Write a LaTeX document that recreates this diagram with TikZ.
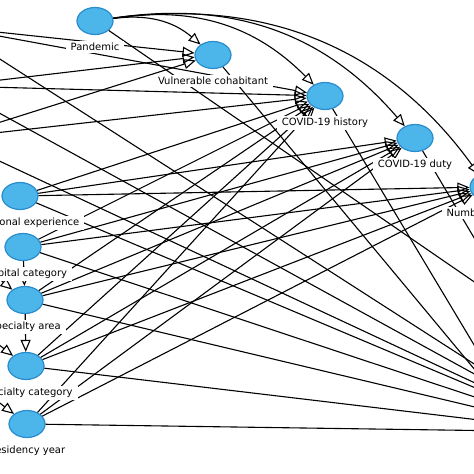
\documentclass[tikz,border=0pt]{standalone}
\usepackage{fontspec}
\setsansfont{DejaVu Sans}
\usetikzlibrary{positioning,arrows.meta,shapes.geometric}

\definecolor{varfill}{RGB}{76,182,234}
\definecolor{varline}{RGB}{40,140,205}

\tikzset{
  var/.style={ellipse,draw=varline,fill=varfill,line width=1.2pt,
    minimum width=36pt,minimum height=27pt,inner sep=0pt},
  lab/.style={fill=white,inner xsep=5pt,inner ysep=2pt,font=\sffamily\fontsize{10}{12}\selectfont},
  dep/.style={-{Triangle[open,length=12pt,width=10pt]},line width=1.1pt},
}

\begin{document}
\begin{tikzpicture}[x=1pt,y=-1pt,node distance=6pt]
  \useasboundingbox (0,0) rectangle (474,474);
  \clip (0,0) rectangle (474,474);

  % exposures along the diagonal
  \node[var] (pand) at (95,21) {};
  \node[var] (vuln) at (213,55) {};
  \node[var] (hist) at (325,96) {};
  \node[var] (duty) at (415,138) {};
  \node[var] (nshift) at (488,187) {};
  % left column
  \node[var] (prof) at (20,196) {};
  \node[var] (hosp) at (23,247) {};
  \node[var] (sarea) at (25,300) {};
  \node[var] (scat) at (26,366) {};
  \node[var] (resid) at (27,424) {};
  % variables outside the frame
  \coordinate (age) at (-50,27);
  \coordinate (sex) at (-50,86);
  \coordinate (spec) at (-50,138);
  \coordinate (prev1) at (-30,255);
  \coordinate (prev2) at (-30,322);
  \coordinate (prev3) at (-30,380);
  \coordinate (outa) at (518,312);
  \coordinate (outb) at (580,432);
  \coordinate (outc) at (525,430);

  \draw[dep] (pand) to[bend left=24] (vuln);
  \draw[dep] (pand) to[bend left=27] (hist);
  \draw[dep] (pand) to[bend left=29] (duty);
  \draw[dep] (pand) to[bend left=31] (nshift);
  \draw[dep] (pand) -- (outa);

  \draw[dep] (vuln) -- (outc);
  \draw[dep] (hist) -- (outc);
  \draw[dep] (duty) -- (outa);
  \draw[dep] (nshift) -- (outc);

  \foreach \src in {age,sex,spec} {
    \draw[dep] (\src) -- (vuln);
    \draw[dep] (\src) -- (hist);
    \draw[dep] (\src) -- (outb);
  }
  \foreach \src in {prof,hosp,sarea,scat,resid} {
    \draw[dep] (\src) -- (hist);
    \draw[dep] (\src) -- (duty);
    \draw[dep] (\src) -- (nshift);
    \draw[dep] (\src) -- (outb);
  }
  \draw[dep] (hosp) -- (sarea);
  \draw[dep] (sarea) -- (scat);
  \draw[dep] (prev1) -- (sarea);
  \draw[dep] (prev2) -- (scat);
  \draw[dep] (prev3) -- (resid);

  % labels
  \node[lab, below=of pand] (pandlab) {Pandemic};
  \node[lab, below=of vuln] (vulnlab) {Vulnerable cohabitant};
  \node[lab, below=of hist] (histlab) {COVID-19 history};
  \node[lab, below=of duty] (dutylab) {COVID-19 duty};
  \node[lab, below=of nshift] (nshiftlab) {Number of shifts};
  \node[lab, below=of prof] (proflab) {Professional experience};
  \node[lab, below=of hosp] (hosplab) {Hospital category};
  \node[lab, below=of sarea] (sarealab) {Specialty area};
  \node[lab, below=of scat] (scatlab) {Specialty category};
  \node[lab, below=of resid] (residlab) {Residency year};
\end{tikzpicture}
\end{document}
